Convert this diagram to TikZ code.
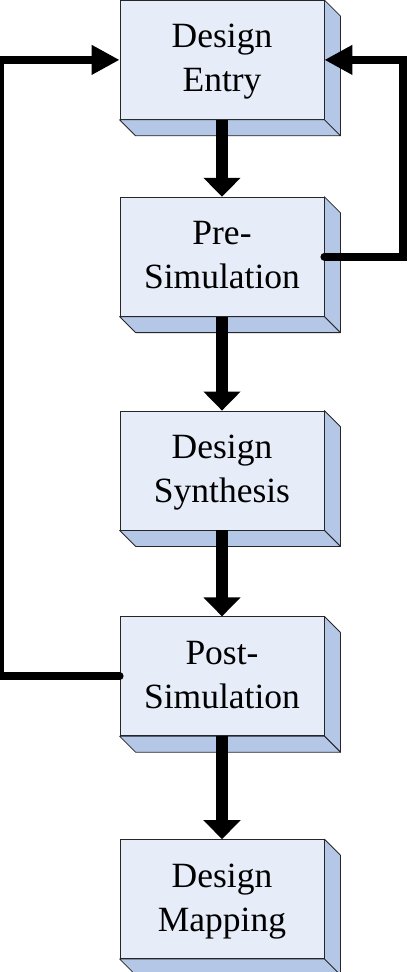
\documentclass[tikz,border=0pt]{standalone}
\usepackage{fontspec}
\setmainfont{Liberation Serif}
\usetikzlibrary{positioning,arrows.meta}

\definecolor{faceblue}{RGB}{230,236,248}
\definecolor{sideblue}{RGB}{180,199,231}
\newcommand{\boxstrut}{\rule[-8pt]{0pt}{36pt}}

\begin{document}
\begin{tikzpicture}[
        stage/.style={
            rectangle, draw = black!85, line width = 0.8pt, fill = faceblue,
            minimum width = 204pt, minimum height = 119pt, inner sep = 0pt,
            align = center, font = \fontsize{35.5}{44}\selectfont
        },
        side/.style={
            draw = black!85, line width = 0.8pt, fill = sideblue, line join = round
        },
        flow/.style={
            line width = 12pt, -{Triangle[width=36pt,length=19pt]}
        },
        feedback/.style={
            line width = 8pt, line cap = round, -{Triangle[width=28pt,length=28pt]}
        },
    ]
    \useasboundingbox (0,0) rectangle (408pt,-972pt);

    \node (designEntry) [stage, anchor=north] at (222pt,0) {Design\boxstrut \\ Entry\boxstrut};
    \node (preSim) [stage, below=77pt of designEntry] {Pre-\boxstrut \\ Simulation\boxstrut};
    \node (designSynth) [stage, below=94pt of preSim] {Design\boxstrut \\ Synthesis\boxstrut};
    \node (postSim) [stage, below=86pt of designSynth] {Post-\boxstrut \\ Simulation\boxstrut};
    \node (designMap) [stage, below=103pt of postSim] {Design\boxstrut \\ Mapping\boxstrut};

    % box depth
    \foreach \n in {designEntry,preSim,designSynth,postSim,designMap} {
        \filldraw[side] (\n.north east) -- ++(16pt,-16pt) -- ([shift={(16pt,-16pt)}]\n.south east) -- (\n.south east) -- cycle;
        \filldraw[side] (\n.south west) -- ([shift={(16pt,-16pt)}]\n.south west) -- ([shift={(16pt,-16pt)}]\n.south east) -- (\n.south east) -- cycle;
    }

    \path (designEntry) edge[flow] (preSim);
    \path (preSim) edge[flow] (designSynth);
    \path (designSynth) edge[flow] (postSim);
    \path (postSim) edge[flow] (designMap);

    % loops back to entry
    \coordinate (rightRail) at (403pt,0);
    \coordinate (leftRail) at (0pt,0);
    \draw[feedback] (preSim.east) -- (preSim.east -| rightRail) |- (designEntry.east);
    \draw[feedback] (postSim.west) -- (postSim.west -| leftRail) |- (designEntry.west);

    \end{tikzpicture}
\end{document}
